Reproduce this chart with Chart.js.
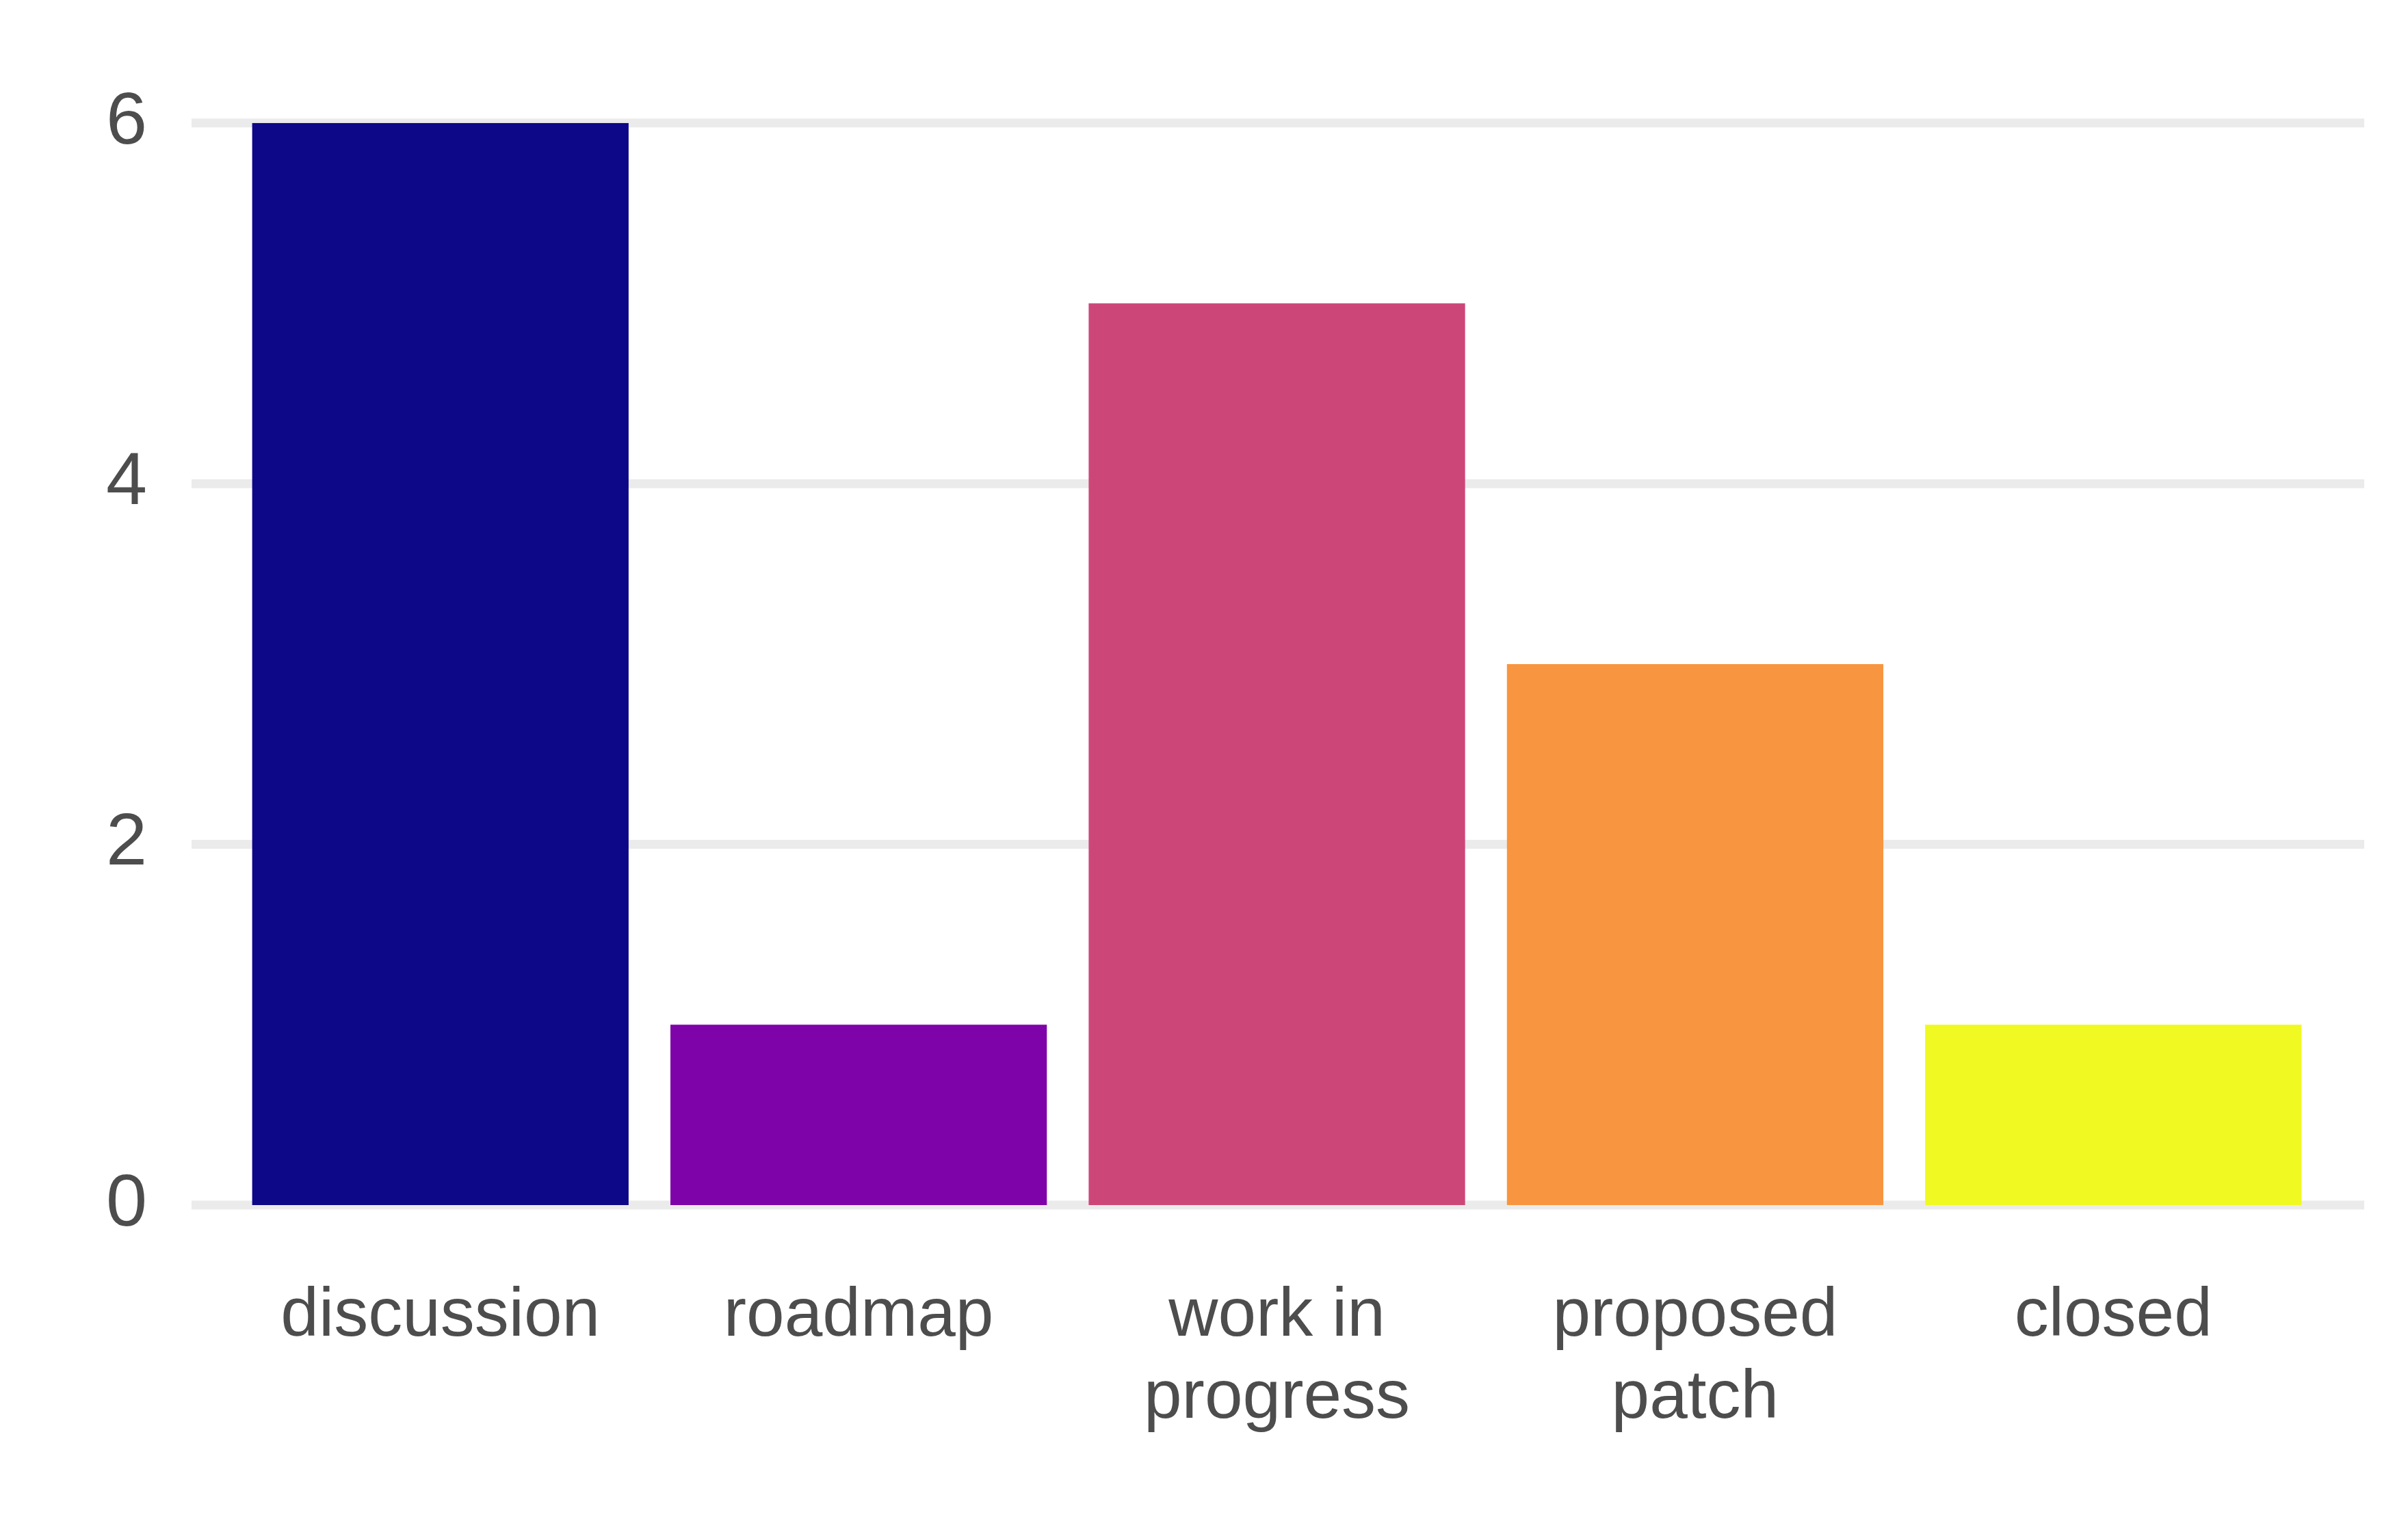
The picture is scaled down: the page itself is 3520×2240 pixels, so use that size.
<!DOCTYPE html>
<html>
<head>
<meta charset="utf-8">
<script src="https://cdn.jsdelivr.net/npm/chart.js@4"></script>
<style>
  html, body { margin: 0; padding: 0; background: #fff; }
</style>
</head>
<body>
<canvas id="chart" width="3520" height="2240"></canvas>
<script>
const categories = [['discussion'], ['roadmap'], ['work in', 'progress'], ['proposed', 'patch'], ['closed']]
const counts = [6, 1, 5, 3, 1]
const barColors = ['#0d0887', '#7e03a8', '#cc4778', '#f89540', '#f0f921']
const yTicks = [0, 2, 4, 6]

// gridlines reach a bit past the plot area, like the original
const wideGrid = {
	id: 'wideGrid',
	beforeDatasetsDraw(chart) {
		const { ctx, chartArea, scales } = chart
		ctx.save()
		ctx.strokeStyle = '#ebebeb'
		ctx.lineWidth = 13
		yTicks.forEach((v) => {
			const y = scales.y.getPixelForValue(v)
			ctx.beginPath()
			ctx.moveTo(chartArea.left - 58, y)
			ctx.lineTo(chartArea.right + 61, y)
			ctx.stroke()
		})
		ctx.restore()
	},
}

new Chart(document.getElementById('chart'), {
	type: 'bar',
	data: {
		labels: categories,
		datasets: [{ data: counts, backgroundColor: barColors, barPercentage: 0.9, categoryPercentage: 1 }],
	},
	plugins: [wideGrid],
	options: {
		responsive: false,
		devicePixelRatio: 1,
		animation: false,
		layout: { padding: { top: 159, right: 125, bottom: 40, left: 40 } },
		plugins: { legend: { display: false }, tooltip: { enabled: false } },
		scales: {
			x: {
				grid: { display: false },
				border: { display: false },
				ticks: {
					color: '#4d4d4d',
					padding: 95,
					maxRotation: 0,
					font: { family: 'Liberation Sans', size: 100 },
				},
			},
			y: {
				min: 0,
				max: 6,
				grid: { display: false },
				border: { display: false },
				afterBuildTicks: (axis) => { axis.ticks = yTicks.map((v) => ({ value: v })) },
				ticks: {
					color: '#4d4d4d',
					padding: 115,
					font: { family: 'Liberation Sans', size: 108 },
				},
			},
		},
	},
})
</script>
</body>
</html>
